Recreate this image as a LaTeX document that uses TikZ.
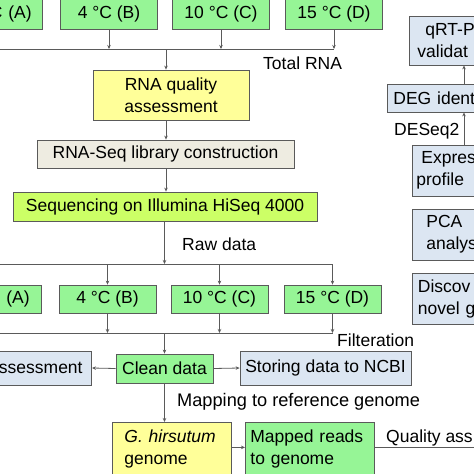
\documentclass[tikz,border=0pt]{standalone}
\usepackage{fontspec}
\setmainfont{Liberation Sans}
\usetikzlibrary{arrows.meta}
\definecolor{boxgreen}{RGB}{150,245,150}
\definecolor{boxyellow}{RGB}{255,255,153}
\definecolor{boxbeige}{RGB}{238,236,225}
\definecolor{boxlime}{RGB}{204,255,102}
\definecolor{boxblue}{RGB}{220,230,242}
\definecolor{linegray}{RGB}{90,90,90}
\tikzset{
  flowbox/.style={draw=linegray, line width=0.8pt, inner sep=0pt, font=\fontsize{17.5}{22}\selectfont, align=center},
  greenbox/.style={flowbox, fill=boxgreen},
  tempbox/.style={greenbox, minimum width=97pt, minimum height=28pt},
  yellowbox/.style={flowbox, fill=boxyellow},
  beigebox/.style={flowbox, fill=boxbeige},
  limebox/.style={flowbox, fill=boxlime},
  bluebox/.style={flowbox, fill=boxblue},
  sidebox/.style={bluebox, anchor=west, text width=100pt, align=left},
  steplabel/.style={inner sep=0pt, anchor=west, font=\fontsize{17.5}{22}\selectfont},
  flowline/.style={draw=linegray, line width=0.8pt},
  flowarrow/.style={flowline, -{Stealth[length=4pt,width=3.5pt]}},
}
\begin{document}
\begin{tikzpicture}[x=1pt, y=-1pt]
  \useasboundingbox (0,0) rectangle (474,474);
  \fill[white] (0,0) rectangle (474,474);
  \clip (0,0) rectangle (474,474);

  % samples before extraction
  \node[tempbox, minimum height=30pt, anchor=east, text width=75pt, inner xsep=11pt, align=right] (ta1) at (43,14) {C (A)};
  \foreach \n/\x/\t in {b/109/4 °C (B), c/221/10 °C (C), d/334/15 °C (D)}
    \node[tempbox, minimum height=30pt] (t\n1) at (\x,14) {\t};
  \coordinate (bus1) at (166,49);
  \draw[flowline] (ta1.south |- bus1) -- (td1.south |- bus1);
  \foreach \n in {ta1,tb1,tc1,td1} \draw[flowarrow] (\n.south) -- (\n.south |- bus1);

  % library and sequencing
  \node[yellowbox, minimum width=156pt, minimum height=50pt] (rna) at (171,95) {RNA quality\\assessment};
  \node[beigebox, minimum width=257pt, minimum height=28pt] (lib) at (165.5,154) {RNA-Seq library construction};
  \node[limebox, minimum width=304pt, minimum height=29pt] (seq) at (165,206.5) {Sequencing on Illumina HiSeq 4000};
  \draw[flowarrow] (bus1) -- (bus1 |- rna.north);
  \draw[flowarrow] (bus1 |- rna.south) -- (bus1 |- lib.north);
  \draw[flowarrow] (bus1 |- lib.south) -- (bus1 |- seq.north);
  \node[steplabel] (totalrna) at (263,63) {Total RNA};

  % raw reads per sample
  \node[tempbox, anchor=east, text width=73pt, inner xsep=12pt, align=right] (ta2) at (42,299) {C (A)};
  \foreach \n/\x/\t in {b/107.5/4 °C (B), c/219.5/10 °C (C), d/332.5/15 °C (D)}
    \node[tempbox] (t\n2) at (\x,299) {\t};
  \coordinate (bus2) at (164.5,264);
  \coordinate (bus3) at (164.5,333);
  \draw[flowarrow] (bus2 |- seq.south) -- (bus2);
  \draw[flowline] (ta2.north |- bus2) -- (td2.north |- bus2);
  \draw[flowline] (ta2.south |- bus3) -- (td2.south |- bus3);
  \foreach \n in {ta2,tb2,tc2,td2} {
    \draw[flowarrow] (\n.north |- bus2) -- (\n.north);
    \draw[flowarrow] (\n.south) -- (\n.south |- bus3);
  }
  \node[steplabel] (rawdata) at (182,244) {Raw data};
  \node[steplabel] (filter) at (337,340) {Filteration};

  % clean data and mapping
  \node[greenbox, minimum width=97pt, minimum height=29pt] (clean) at (164.5,368.5) {Clean data};
  \node[bluebox, anchor=east, text width=132pt, inner xsep=9pt, align=right, minimum height=34pt] (qcheck) at (92,368) {ssessment};
  \node[bluebox, minimum width=171pt, minimum height=34pt] (ncbi) at (325.5,368) {Storing data to NCBI};
  \draw[flowarrow] (bus3) -- (clean.north);
  \draw[flowarrow] (clean.west) -- (qcheck.east);
  \draw[flowarrow] (clean.east) -- (ncbi.west);
  \node[steplabel, font=\fontsize{18.2}{22}\selectfont] (maplabel) at (177,402) {Mapping to reference genome};
  \node[yellowbox, anchor=north west, text width=95pt, inner xsep=12pt, align=left, minimum height=54pt] (ref) at (112,422) {\textit{G. hirsutum}\\genome};
  \node[greenbox, anchor=north west, text width=119pt, inner xsep=5pt, align=left, minimum height=54pt] (mapped) at (245,422) {Mapped reads\\to genome};
  \draw[flowarrow] (clean.south) -- (clean.south |- ref.north);
  \draw[flowarrow] ([yshift=2pt]ref.east) -- ([yshift=2pt]mapped.west);
  \coordinate (qend) at (490,447);
  \draw[flowline] (mapped.east |- qend) -- (qend);
  \node[steplabel] (qlabel) at (386,438) {Quality ass};

  % downstream analyses
  \node[sidebox, inner xsep=8pt, minimum height=49pt] (qpcr) at (409,40.5) {\hspace*{8pt}qRT-P\\validat};
  \node[sidebox, inner xsep=6pt, minimum height=28pt] (deg) at (387,98) {DEG ident};
  \node[sidebox, inner xsep=4pt, minimum height=51pt] (expr) at (412,170.5) {\hspace*{5pt}Expres\\profile};
  \node[sidebox, inner xsep=14pt, minimum height=51pt] (pca) at (412,234.5) {PCA\\analys};
  \node[sidebox, inner xsep=5.5pt, minimum height=51pt] (novel) at (412,298.5) {Discov\\novel g};
  \coordinate (rcol) at (464,0);
  \draw[flowarrow] (rcol |- expr.north) -- (rcol |- deg.south);
  \draw[flowarrow] (rcol |- deg.north) -- (rcol |- qpcr.south);
  \node[steplabel] (deseq) at (394,131) {DESeq2};
\end{tikzpicture}
\end{document}
